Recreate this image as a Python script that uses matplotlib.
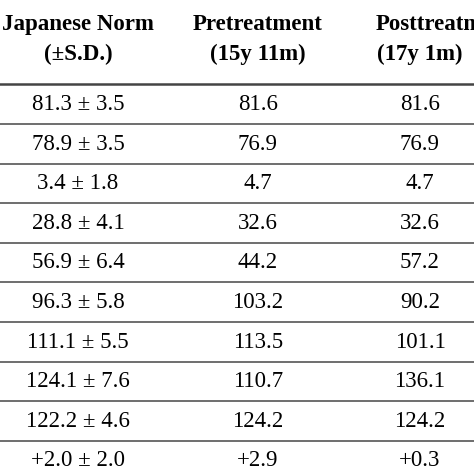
import matplotlib
matplotlib.use("Agg")
import matplotlib.pyplot as plt

headers = [["Japanese Norm", "(±S.D.)"], ["Pretreatment", "(15y 11m)"], ["Posttreatment", "(17y 1m)"]]
norm = ["81.3 ± 3.5", "78.9 ± 3.5", "3.4 ± 1.8", "28.8 ± 4.1", "56.9 ± 6.4",
        "96.3 ± 5.8", "111.1 ± 5.5", "124.1 ± 7.6", "122.2 ± 4.6", "+2.0 ± 2.0"]
pre = ["81.6", "76.9", "4.7", "32.6", "44.2", "103.2", "113.5", "110.7", "124.2", "+2.9"]
post = ["81.6", "76.9", "4.7", "32.6", "57.2", "90.2", "101.1", "136.1", "124.2", "+0.3"]

fig = plt.figure(figsize=(4.74, 4.74), dpi=100)
ax = fig.add_axes([0, 0, 1, 1])
ax.set_xlim(0, 474)
ax.set_ylim(474, 0)
ax.axis("off")

xs = [78, 258, 420]
hx = [78, 258, 445]
fam = ["Liberation Serif", "DejaVu Serif"]
for x, (h1, h2) in zip(hx, headers):
    ax.text(x, 24, h1, ha="center", va="center", fontsize=16.5, fontweight="bold", family=fam)
for x, (h1, h2) in zip(xs, headers):
    ax.text(x, 54, h2, ha="center", va="center", fontsize=16.5, fontweight="bold", family=fam)

ax.axhline(84, color="#444444", lw=1.8)
step = 39.6
for i, vals in enumerate(zip(norm, pre, post)):
    yc = 104.5 + i * step
    for x, v in zip(xs, vals):
        ax.text(x, yc, v, ha="center", va="center", fontsize=16.5, family=fam)
    if i < len(norm) - 1:
        ax.axhline(124 + i * step, color="#555555", lw=1.2)

fig.savefig("out.png", dpi=100)
